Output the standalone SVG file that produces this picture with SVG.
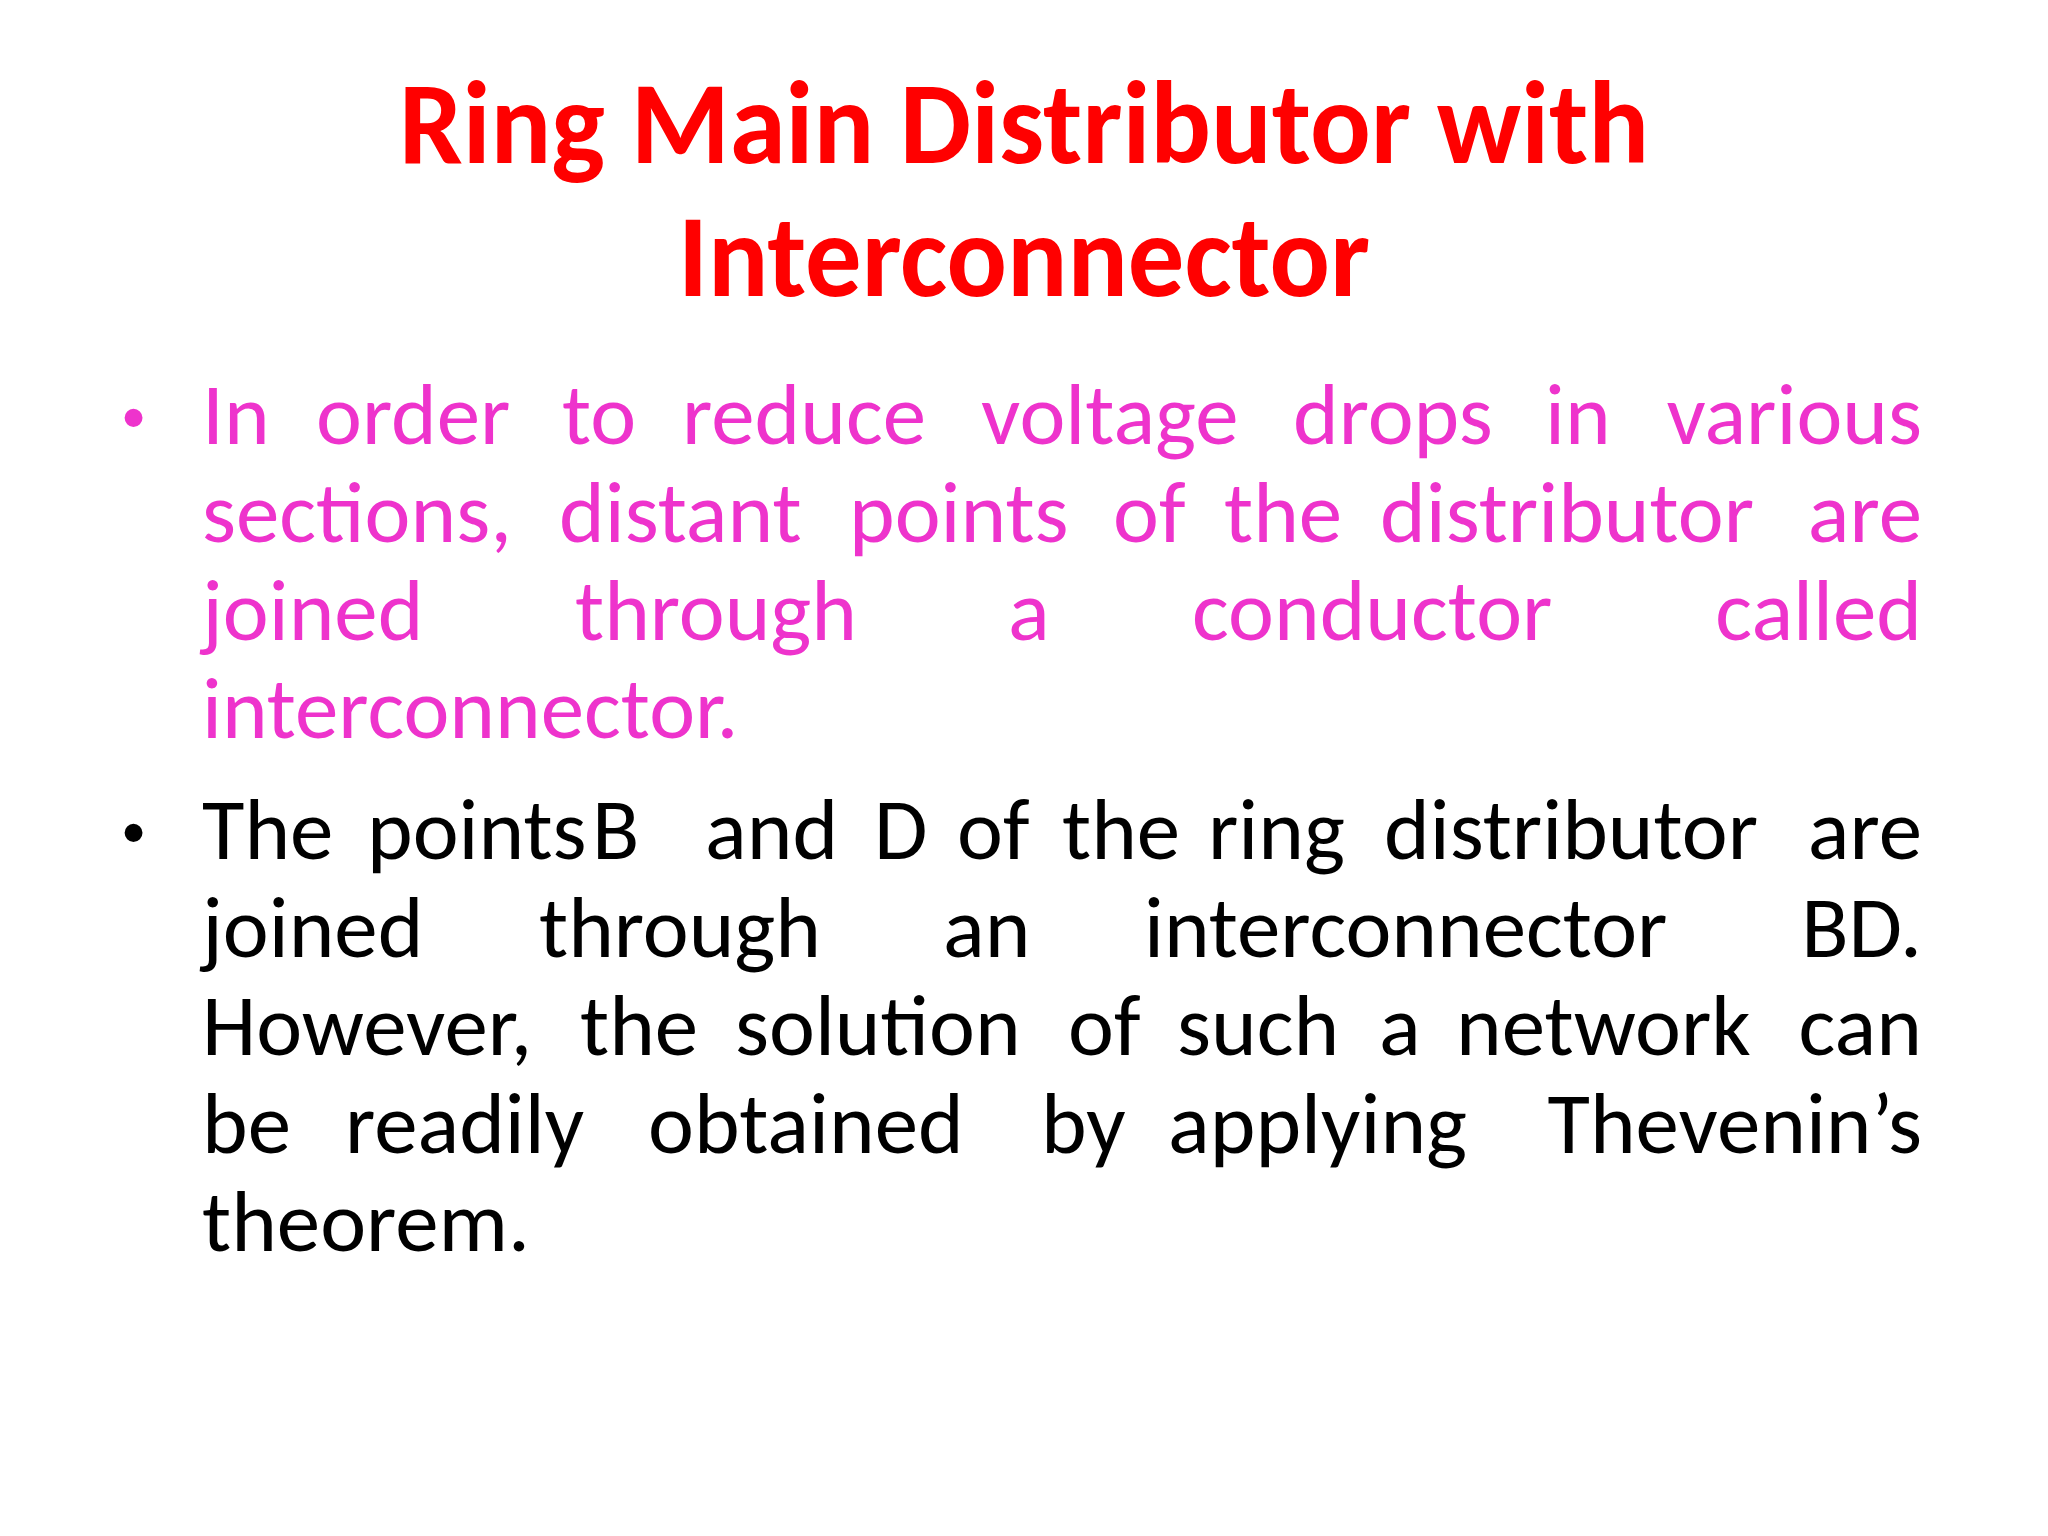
<svg xmlns="http://www.w3.org/2000/svg" width="2048" height="1536" viewBox="0 0 2048 1536">
<style>
text{font-family:Carlito,Lato,"Liberation Sans",sans-serif}
.t{font-weight:bold;font-size:118px;fill:#FF0000}
.p{font-size:87px;fill:#EE33CC}
.k{font-size:87px;fill:#000}
.b{font-size:66px;font-family:"Liberation Sans",sans-serif}
.e{text-anchor:end}
</style>
<rect width="2048" height="1536" fill="#fff"/>
<g id="title">
<text class="t" x="1024" y="163" text-anchor="middle" textLength="1250" lengthAdjust="spacingAndGlyphs">Ring Main Distributor with</text>
<text class="t" x="1024" y="296" text-anchor="middle" textLength="692" lengthAdjust="spacingAndGlyphs">Interconnector</text>
</g>
<g id="bullet1">
<text class="p b" x="122" y="440">•</text>
<text class="p" y="444"><tspan x="202">In</tspan><tspan x="316">order</tspan><tspan x="562">to</tspan><tspan x="682">reduce</tspan><tspan x="981">voltage</tspan><tspan x="1293">drops</tspan><tspan x="1545">in</tspan></text>
<text class="p e" x="1922" y="444">various</text>
<text class="p" y="542"><tspan x="202">sections,</tspan><tspan x="559">distant</tspan><tspan x="849">points</tspan><tspan x="1113">of</tspan><tspan x="1224">the</tspan><tspan x="1380">distributor</tspan></text>
<text class="p e" x="1922" y="542">are</text>
<text class="p" y="640"><tspan x="202">joined</tspan><tspan x="575">through</tspan><tspan x="1008">a</tspan><tspan x="1192">conductor</tspan></text>
<text class="p e" x="1922" y="640">called</text>
<text class="p" x="202" y="738">interconnector.</text>
</g>
<g id="bullet2">
<text class="k b" x="122" y="855">•</text>
<text class="k" y="859"><tspan x="202">The</tspan><tspan x="367">points</tspan><tspan x="592">B</tspan><tspan x="705">and</tspan><tspan x="874">D</tspan><tspan x="957">of</tspan><tspan x="1062">the</tspan><tspan x="1208">ring</tspan><tspan x="1384">distributor</tspan></text>
<text class="k e" x="1922" y="859">are</text>
<text class="k" y="957"><tspan x="202">joined</tspan><tspan x="539">through</tspan><tspan x="943">an</tspan><tspan x="1144">interconnector</tspan></text>
<text class="k e" x="1922" y="957">BD.</text>
<text class="k" y="1055"><tspan x="202">However,</tspan><tspan x="580">the</tspan><tspan x="735">solution</tspan><tspan x="1068">of</tspan><tspan x="1177">such</tspan><tspan x="1379">a</tspan><tspan x="1456">network</tspan></text>
<text class="k e" x="1922" y="1055">can</text>
<text class="k" y="1153"><tspan x="202">be</tspan><tspan x="345">readily</tspan><tspan x="648">obtained</tspan><tspan x="1041">by</tspan><tspan x="1168">applying</tspan></text>
<text class="k e" x="1922" y="1153">Thevenin’s</text>
<text class="k" x="202" y="1251">theorem.</text>
</g>
</svg>
